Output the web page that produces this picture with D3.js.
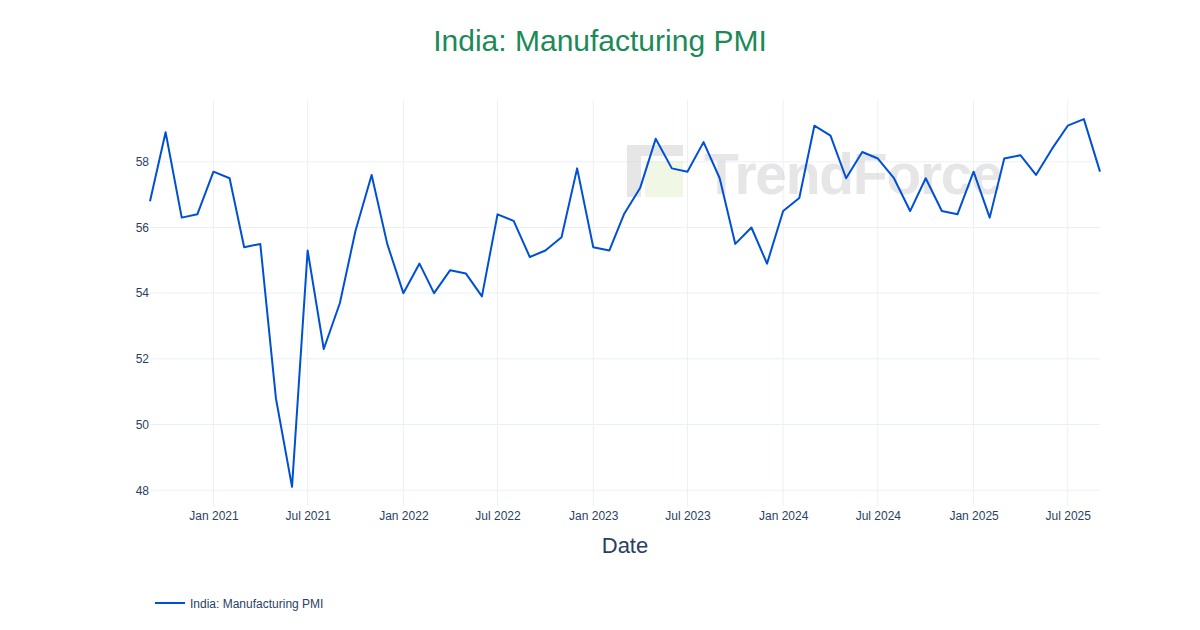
<!DOCTYPE html>
<html lang="en">
<head>
  <meta charset="UTF-8">
  <title>India: Manufacturing PMI</title>
  <script src="https://d3js.org/d3.v7.min.js"></script>
  <style>
    body { margin: 0; background: #fff; }
    text { font-family: "Liberation Sans", Arial, sans-serif; }
    .tick text { fill: #2a3f5f; font-size: 12px; }
  </style>
</head>
<body>
  <div id="chart"></div>
  <script>
    // monthly readings, Sep 2020 .. Sep 2025
    const startMonth = "2020-09";
    const pmiValues = [
      56.8, 58.9, 56.3, 56.4,
      57.7, 57.5, 55.4, 55.5, 50.8, 48.1, 55.3, 52.3, 53.7, 55.9, 57.6, 55.5,
      54.0, 54.9, 54.0, 54.7, 54.6, 53.9, 56.4, 56.2, 55.1, 55.3, 55.7, 57.8,
      55.4, 55.3, 56.4, 57.2, 58.7, 57.8, 57.7, 58.6, 57.5, 55.5, 56.0, 54.9,
      56.5, 56.9, 59.1, 58.8, 57.5, 58.3, 58.1, 57.5, 56.5, 57.5, 56.5, 56.4,
      57.7, 56.3, 58.1, 58.2, 57.6, 58.4, 59.1, 59.3, 57.7
    ];
    const yTicks = [48, 50, 52, 54, 56, 58];
    const xTicks = ["2021-01", "2021-07", "2022-01", "2022-07", "2023-01", "2023-07",
                    "2024-01", "2024-07", "2025-01", "2025-07"];
    const seriesName = "India: Manufacturing PMI";

    const width = 1200, height = 630;
    const margin = { top: 100, right: 100, bottom: 124, left: 150 };
    const parse = d3.timeParse("%Y-%m");
    const start = parse(startMonth);
    const data = pmiValues.map((v, i) => ({ date: d3.timeMonth.offset(start, i), value: v }));

    const svg = d3.select("#chart").append("svg")
      .attr("width", width).attr("height", height);

    const x = d3.scaleTime()
      .domain(d3.extent(data, d => d.date))
      .range([margin.left, width - margin.right]);

    const [lo, hi] = d3.extent(pmiValues);
    const pad = (hi - lo) * 0.052;
    const y = d3.scaleLinear()
      .domain([lo - pad, hi + pad])
      .range([height - margin.bottom, margin.top]);

    // gridlines
    svg.append("g").selectAll("line")
      .data(yTicks).enter().append("line")
      .attr("x1", margin.left).attr("x2", width - margin.right)
      .attr("y1", d => y(d)).attr("y2", d => y(d))
      .attr("stroke", "#ebf0f8").attr("stroke-width", 1);
    svg.append("g").selectAll("line")
      .data(xTicks.map(parse)).enter().append("line")
      .attr("x1", d => x(d)).attr("x2", d => x(d))
      .attr("y1", margin.top).attr("y2", height - margin.bottom)
      .attr("stroke", "#ebf0f8").attr("stroke-width", 1);

    // watermark
    const wm = svg.append("g").attr("opacity", 0.5);
    wm.append("rect").attr("x", 627).attr("y", 145).attr("width", 56).attr("height", 11)
      .attr("fill", "#cfcfcf");
    wm.append("rect").attr("x", 627).attr("y", 145).attr("width", 14).attr("height", 52)
      .attr("fill", "#cfcfcf");
    wm.append("rect").attr("x", 645).attr("y", 161).attr("width", 38).attr("height", 36)
      .attr("fill", "#e3f0cc");
    wm.append("text").attr("x", 704).attr("y", 194)
      .attr("font-size", 57).attr("font-weight", "bold").attr("fill", "#cfcfcf")
      .attr("textLength", 299)
      .text("TrendForce");

    // axes
    svg.append("g")
      .attr("transform", `translate(0,${height - margin.bottom})`)
      .call(d3.axisBottom(x).tickValues(xTicks.map(parse))
        .tickFormat(d3.timeFormat("%b %Y")).tickSize(0).tickPadding(5))
      .call(g => g.select(".domain").remove());

    svg.append("g")
      .attr("transform", `translate(${margin.left},0)`)
      .call(d3.axisLeft(y).tickValues(yTicks).tickSize(0).tickPadding(1))
      .call(g => g.select(".domain").remove());

    // line
    const line = d3.line().x(d => x(d.date)).y(d => y(d.value));
    svg.append("path")
      .datum(data)
      .attr("d", line)
      .attr("fill", "none")
      .attr("stroke", "#0050d4")
      .attr("stroke-width", 2)
      .attr("stroke-linejoin", "round");

    // titles
    svg.append("text")
      .attr("x", width / 2).attr("y", 51)
      .attr("text-anchor", "middle")
      .attr("font-size", 30).attr("fill", "#1b8a57")
      .text(seriesName);

    svg.append("text")
      .attr("x", (margin.left + width - margin.right) / 2).attr("y", 553)
      .attr("text-anchor", "middle")
      .attr("font-size", 22).attr("fill", "#2a3f5f")
      .text("Date");

    // legend
    const legend = svg.append("g").attr("transform", "translate(155,603)");
    legend.append("line").attr("x1", 0).attr("x2", 30)
      .attr("stroke", "#0050d4").attr("stroke-width", 2);
    legend.append("text").attr("x", 35).attr("y", 4.5)
      .attr("font-size", 12).attr("fill", "#2a3f5f")
      .text(seriesName);
  </script>
</body>
</html>
